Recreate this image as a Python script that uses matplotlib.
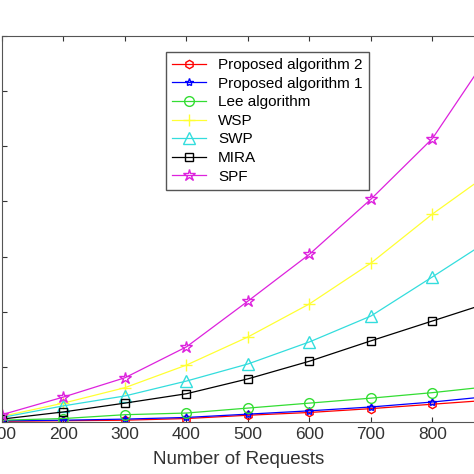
import matplotlib
matplotlib.use("Agg")
import matplotlib.pyplot as plt
plt.rcParams['font.family'] = ['Liberation Sans', 'DejaVu Sans']

x = [100, 200, 300, 400, 500, 600, 700, 800, 900]
pa2 = [0.01, 0.02, 0.03, 0.06, 0.12, 0.17, 0.24, 0.32, 0.40]
pa1 = [0.02, 0.03, 0.05, 0.08, 0.14, 0.20, 0.27, 0.36, 0.47]
lee = [0.03, 0.06, 0.13, 0.16, 0.25, 0.34, 0.43, 0.53, 0.65]
wsp = [0.10, 0.34, 0.62, 1.03, 1.54, 2.14, 2.88, 3.77, 4.57]
swp = [0.08, 0.29, 0.47, 0.74, 1.05, 1.45, 1.92, 2.63, 3.35]
mira = [0.05, 0.18, 0.34, 0.51, 0.78, 1.10, 1.47, 1.83, 2.19]
spf = [0.13, 0.45, 0.80, 1.36, 2.19, 3.04, 4.04, 5.14, 6.80]

fig = plt.figure(figsize=(4.74, 4.74), dpi=100)
ax = fig.add_axes([0.004, 0.110, 1.038, 0.814])
lw = 0.9
ax.plot(x, pa2, color='red', marker='h', mfc='none', ms=6, lw=lw, label='Proposed algorithm 2')
ax.plot(x, pa1, color='blue', marker='*', mfc='none', ms=6, lw=lw, label='Proposed algorithm 1')
ax.plot(x, lee, color='#33dd33', marker='o', mfc='none', ms=7, lw=lw, label='Lee algorithm')
ax.plot(x, wsp, color='#ffff33', marker='+', ms=8, lw=lw, label='WSP')
ax.plot(x, swp, color='#33dddd', marker='^', mfc='none', ms=8, lw=lw, label='SWP')
ax.plot(x, mira, color='black', marker='s', mfc='none', ms=6, lw=lw, label='MIRA')
ax.plot(x, spf, color='#dd22dd', marker='*', mfc='none', ms=9, lw=lw, label='SPF')
ax.set_xlim(100, 900)
ax.set_ylim(0, 7)
ax.set_xticks([100, 200, 300, 400, 500, 600, 700, 800, 900])
ax.set_yticks(range(8))
ax.set_yticklabels([])
ax.tick_params(direction='in', top=True, right=True, labelsize=12.5, colors='#333333')
for s in ax.spines.values():
    s.set_color('#555555')
ax.set_xlabel('Number of Requests', fontsize=13.5, color='#333333')
ax.xaxis.set_label_coords(0.5 - 0.019, -0.075)
leg = ax.legend(loc='upper left', bbox_to_anchor=(166/474, 1-52/474), bbox_transform=fig.transFigure,
                fancybox=False, edgecolor='#555555', fontsize=11, borderaxespad=0,
                handlelength=2.2, labelspacing=0.3, framealpha=1)
fig.savefig('out.png', dpi=100)
